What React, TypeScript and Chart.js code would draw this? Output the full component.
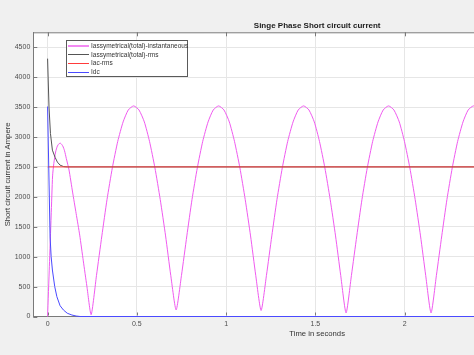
import React, { useEffect, useRef } from 'react';
import { Chart, registerables } from 'chart.js';

Chart.register(...registerables);

// ---- data ----
const titleText = 'Singe Phase Short circuit current';
const xLabel = 'Time in seconds';
const yLabel = 'Short circuit current in Ampere';
const legendLabels = [
  'Iassymetrical(total)-instantaneous',
  'Iassymetrical(total)-rms',
  'Iac-rms',
  'Idc',
];
const xTicks = [0, 0.5, 1, 1.5, 2, 2.5, 3];
const yTicks = [0, 500, 1000, 1500, 2000, 2500, 3000, 3500, 4000, 4500];

// Iassymetrical(total)-instantaneous (magenta)
const instT = [
  0, 0.01, 0.02, 0.028, 0.035, 0.045, 0.055, 0.065, 0.073, 0.085, 0.095, 0.105, 0.12, 0.14, 0.16, 0.18, 0.2, 0.22, 0.244,
  0.274, 0.304, 0.333, 0.363, 0.393, 0.423, 0.452, 0.482, 0.512, 0.542, 0.571, 0.601, 0.631, 0.661, 0.69, 0.72,
  0.75, 0.78, 0.809, 0.839, 0.869, 0.899, 0.928, 0.958, 0.988, 1.018, 1.047, 1.077, 1.107, 1.137, 1.166, 1.196,
  1.226, 1.256, 1.285, 1.315, 1.345, 1.375, 1.404, 1.434, 1.464, 1.494, 1.523, 1.553, 1.583, 1.613, 1.642, 1.672,
  1.702, 1.732, 1.761, 1.791, 1.821, 1.851, 1.88, 1.91, 1.94, 1.97, 1.999, 2.029, 2.059, 2.089, 2.118, 2.148,
  2.178, 2.208, 2.237, 2.267, 2.297, 2.327, 2.356, 2.386, 2.416, 2.446, 2.475, 2.505, 2.535, 2.565, 2.594, 2.624,
];
const instI = [
  0, 840, 1680, 2350, 2560, 2750, 2850, 2890, 2895, 2850, 2770, 2640, 2450, 2080, 1720, 1360, 930, 510, 30,
  687, 1347, 1956, 2489, 2927, 3252, 3452, 3520, 3452, 3252, 2927, 2489, 1956, 1347, 687, 110,
  687, 1347, 1956, 2489, 2927, 3252, 3452, 3520, 3452, 3252, 2927, 2489, 1956, 1347, 687, 100,
  687, 1347, 1956, 2489, 2927, 3252, 3452, 3520, 3452, 3252, 2927, 2489, 1956, 1347, 687, 60,
  687, 1347, 1956, 2489, 2927, 3252, 3452, 3520, 3452, 3252, 2927, 2489, 1956, 1347, 687, 60,
  687, 1347, 1956, 2489, 2927, 3252, 3452, 3520, 3452, 3252, 2927, 2489, 1956, 1347, 687, 50,
];

// Iassymetrical(total)-rms (dark grey)
const rmsT = [0, 0.008, 0.016, 0.027, 0.042, 0.055, 0.07, 0.09, 0.11, 3.1];
const rmsI = [4310, 3500, 3060, 2780, 2660, 2580, 2530, 2505, 2500, 2500];

// Iac-rms (red)
const acT = [0, 3.1];
const acI = [2500, 2500];

// Idc (blue)
const dcT = [0, 0.014, 0.02, 0.027, 0.04, 0.052, 0.07, 0.089, 0.11, 0.136, 0.16, 0.182, 3.1];
const dcI = [3510, 1330, 1000, 777, 500, 331, 180, 108, 55, 25, 8, 0, 0];

const colors = ['rgb(240,90,240)', '#555555', '#ff3b3b', '#4a4aff'];
const FONT = '"Liberation Sans", Arial, Helvetica, sans-serif';
const AXIS = '#7a7a7a';

const toPts = (t: number[], v: number[]) => t.map((x, i) => ({ x, y: v[i] }));

const plotBg = {
  id: 'plotBg',
  beforeDraw(chart: any) {
    const { ctx, chartArea: a } = chart;
    ctx.save();
    ctx.fillStyle = '#ffffff';
    ctx.fillRect(a.left, a.top, a.right - a.left, a.bottom - a.top);
    ctx.restore();
  },
};

const frame = {
  id: 'frame',
  afterDraw(chart: any) {
    const { ctx, chartArea: a, scales } = chart;
    ctx.save();
    ctx.strokeStyle = AXIS;
    ctx.lineWidth = 1;
    ctx.beginPath();
    ctx.moveTo(a.left, a.top + 0.5);
    ctx.lineTo(a.right, a.top + 0.5);
    ctx.moveTo(a.right - 0.5, a.top);
    ctx.lineTo(a.right - 0.5, a.bottom);
    xTicks.forEach((v) => {
      const px = Math.round(scales.x.getPixelForValue(v)) + 0.5;
      ctx.moveTo(px, a.bottom - 1);
      ctx.lineTo(px, a.bottom - 4);
      ctx.moveTo(px, a.top);
      ctx.lineTo(px, a.top + 4);
    });
    yTicks.forEach((v) => {
      const py = Math.round(scales.y.getPixelForValue(v)) + 0.5;
      ctx.moveTo(a.left, py);
      ctx.lineTo(a.left + 4, py);
    });
    ctx.stroke();
    ctx.restore();
  },
};

export default function App() {
  const ref = useRef<HTMLCanvasElement>(null);

  useEffect(() => {
    const series = [
      toPts(instT, instI),
      toPts(rmsT, rmsI),
      toPts(acT, acI),
      toPts(dcT, dcI),
    ];
    const chart = new Chart(ref.current as HTMLCanvasElement, {
      type: 'line',
      data: {
        datasets: series.map((d, i) => ({
          label: legendLabels[i],
          data: d,
          borderColor: colors[i],
          backgroundColor: colors[i],
          borderWidth: 1,
          pointRadius: 0,
          tension: i === 0 ? 0.2 : 0,
          fill: false,
          clip: 3,
          order: 3 - i,
        })),
      },
      options: {
        responsive: false,
        animation: false,
        events: [],
        layout: { padding: { left: 0, right: 39, top: 0, bottom: 0 } },
        plugins: {
          legend: { display: false },
          tooltip: { enabled: false },
          title: {
            display: true,
            text: titleText,
            fullSize: false,
            color: '#1a1a1a',
            font: { family: FONT, size: 8, weight: 'bold' },
            padding: { top: 20.7, bottom: 2 },
          },
        },
        scales: {
          x: {
            type: 'linear',
            min: -0.08,
            max: 3.1,
            afterBuildTicks: (s: any) => {
              s.ticks = xTicks.map((v) => ({ value: v }));
            },
            afterFit: (s: any) => {
              s.height = 38.5;
            },
            ticks: {
              padding: 3,
              color: '#4d4d4d',
              font: { family: FONT, size: 7 },
              maxRotation: 0,
              autoSkip: false,
              callback: (v: any) => String(v),
            },
            grid: { color: '#e6e6e6', drawTicks: false },
            border: { display: true, color: AXIS, width: 1 },
            title: {
              display: true,
              text: xLabel,
              color: '#333333',
              font: { family: FONT, size: 7.7 },
              padding: { top: 0, bottom: 16.4 },
            },
          },
          y: {
            type: 'linear',
            min: 0,
            max: 4750,
            afterBuildTicks: (s: any) => {
              s.ticks = yTicks.map((v) => ({ value: v }));
            },
            afterFit: (s: any) => {
              s.width = 33.3;
            },
            ticks: {
              padding: 3,
              color: '#4d4d4d',
              font: { family: FONT, size: 7 },
              autoSkip: false,
              callback: (v: any) => String(v),
            },
            grid: { color: '#e6e6e6', drawTicks: false },
            border: { display: true, color: AXIS, width: 1 },
            title: {
              display: true,
              text: yLabel,
              color: '#333333',
              font: { family: FONT, size: 7.7 },
              padding: { top: 3.4, bottom: 0 },
            },
          },
        },
      } as any,
      plugins: [plotBg, frame],
    });
    return () => chart.destroy();
  }, []);

  const rowTops = [5.7, 14.7, 23.3, 32.3];

  return (
    <div
      style={{
        position: 'fixed',
        left: 0,
        top: 0,
        width: 474,
        height: 355,
        overflow: 'hidden',
        background: '#f0f0f0',
      }}
    >
      <canvas ref={ref} width={640} height={355} style={{ display: 'block' }} />
      <div
        style={{
          position: 'absolute',
          left: 66,
          top: 40,
          width: 122,
          height: 37,
          boxSizing: 'border-box',
          border: '1px solid #5a5a5a',
          background: '#ffffff',
        }}
      >
        {legendLabels.map((lab, i) => (
          <div key={lab} style={{ position: 'absolute', left: 0, top: rowTops[i] - 1 - 4, height: 8, width: 120 }}>
            <div
              style={{
                position: 'absolute',
                left: 1,
                top: i === 0 ? 3 : 3.5,
                width: 21,
                height: i === 0 ? 2 : 1,
                background: i === 0 ? '#f38af3' : colors[i],
              }}
            />
            <span
              style={{
                position: 'absolute',
                left: 24,
                top: 0,
                fontFamily: FONT,
                fontSize: 6.5,
                lineHeight: '8px',
                color: '#333333',
                whiteSpace: 'nowrap',
              }}
            >
              {lab}
            </span>
          </div>
        ))}
      </div>
    </div>
  );
}
